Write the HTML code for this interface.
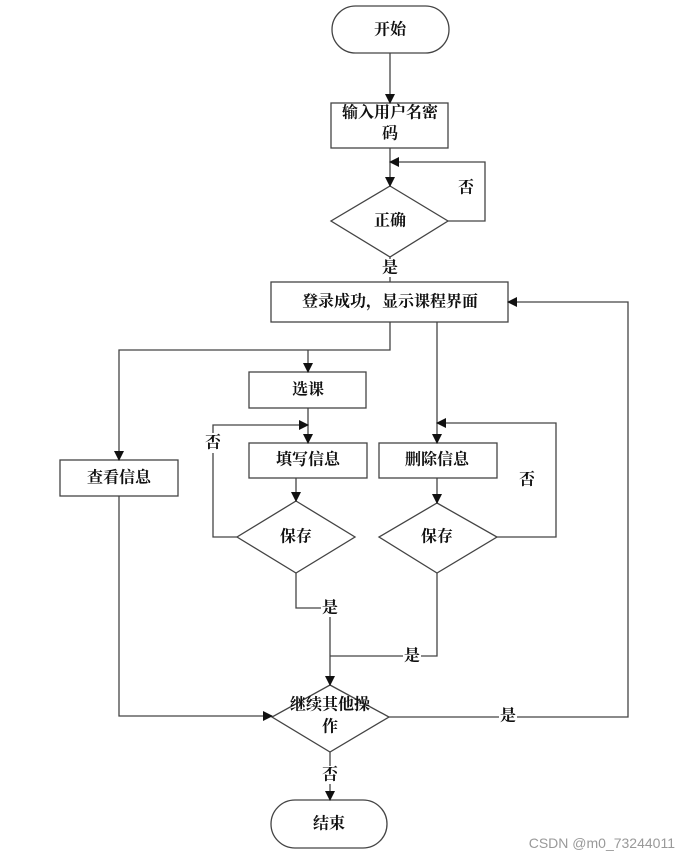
<!DOCTYPE html>
<html><head><meta charset="utf-8"><style>
html,body{margin:0;padding:0;background:#fff;}
svg text{font-family:"Liberation Serif","Noto Serif CJK SC",serif;font-weight:bold;font-size:16px;fill:#111;}
</style></head><body>
<svg width="690" height="861" viewBox="0 0 690 861" xmlns="http://www.w3.org/2000/svg">
<defs><marker id="a" markerWidth="10" markerHeight="10" refX="9" refY="5" orient="auto" markerUnits="userSpaceOnUse"><path d="M0,0 L10,5 L0,10 z" fill="#111"/></marker></defs>
<g fill="none" stroke="#444" stroke-width="1.3">
<rect x="332" y="6" width="117" height="47" rx="23.5" fill="#fff"/>
<rect x="331" y="103" width="117" height="45"/>
<polygon points="390,186 448,221 390,257 331,221"/>
<rect x="271" y="282" width="237" height="40"/>
<rect x="249" y="372" width="117" height="36"/>
<rect x="249" y="443" width="118" height="35"/>
<rect x="379" y="443" width="118" height="35"/>
<rect x="60" y="460" width="118" height="36"/>
<polygon points="296,501 355,537 296,573 237,537"/>
<polygon points="437,503 497,537 437,573 379,537"/>
<polygon points="330,685 389,717 330,752 272,717"/>
<rect x="271" y="800" width="116" height="48" rx="24"/>
</g>
<g fill="none" stroke="#444" stroke-width="1.3">
<path d="M390,53 V103" marker-end="url(#a)"/>
<path d="M390,148 V186" marker-end="url(#a)"/>
<path d="M448,221 H485 V162 H390" marker-end="url(#a)"/>
<path d="M390,257 V282"/>
<path d="M389,717 H628 V302 H508" marker-end="url(#a)"/>
<path d="M390,322 V350 H119 V460" marker-end="url(#a)"/>
<path d="M308,350 V372" marker-end="url(#a)"/>
<path d="M437,322 V443" marker-end="url(#a)"/>
<path d="M308,408 V443" marker-end="url(#a)"/>
<path d="M237,537 H213 V425 H308" marker-end="url(#a)"/>
<path d="M296,478 V501" marker-end="url(#a)"/>
<path d="M437,478 V503" marker-end="url(#a)"/>
<path d="M497,537 H556 V423 H437" marker-end="url(#a)"/>
<path d="M296,573 V608 H330 V685" marker-end="url(#a)"/>
<path d="M437,573 V656 H330"/>
<path d="M119,496 V716 H272" marker-end="url(#a)"/>
<path d="M330,752 V800" marker-end="url(#a)"/>
</g>
<g text-anchor="middle" dominant-baseline="central">
<text x="390" y="30">开始</text>
<text x="390" y="113">输入用户名密</text>
<text x="390" y="134">码</text>
<text x="390" y="221">正确</text>
<text x="466" y="188">否</text>
<rect x="381" y="259" width="18" height="18" fill="#fff"/>
<text x="390" y="268">是</text>
<text x="390" y="302">登录成功，显示课程界面</text>
<text x="308" y="390">选课</text>
<text x="308" y="460">填写信息</text>
<text x="437" y="460">删除信息</text>
<text x="119" y="478">查看信息</text>
<text x="296" y="537">保存</text>
<text x="437" y="537">保存</text>
<rect x="205" y="433" width="18" height="20" fill="#fff"/>
<text x="213" y="443">否</text>
<text x="527" y="480">否</text>
<rect x="321" y="599" width="18" height="18" fill="#fff"/>
<text x="330" y="608">是</text>
<rect x="403" y="647" width="18" height="18" fill="#fff"/>
<text x="412" y="656">是</text>
<rect x="499" y="707" width="18" height="18" fill="#fff"/>
<text x="508" y="716">是</text>
<text x="330" y="705">继续其他操</text>
<text x="330" y="727">作</text>
<rect x="321" y="766" width="18" height="18" fill="#fff"/>
<text x="330" y="775">否</text>
<text x="329" y="824">结束</text>
</g>
<text x="675" y="848" text-anchor="end" style="font-family:'Liberation Sans',sans-serif;font-weight:normal;font-size:14px;fill:#999">CSDN @m0_73244011</text>
</svg>
</body></html>
